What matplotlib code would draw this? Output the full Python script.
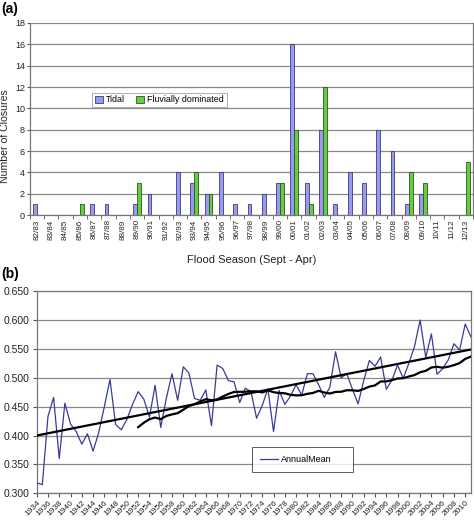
import numpy as np
import pandas as pd
import matplotlib
matplotlib.use("Agg")
import matplotlib.pyplot as plt
from matplotlib.patches import Patch
from matplotlib.lines import Line2D

plt.rcParams["font.family"] = ["Liberation Sans", "DejaVu Sans"]

# ---- panel (a): closures per flood season ----
seasons = ["82/83", "83/84", "84/85", "85/86", "86/87", "87/88", "88/89", "89/90",
           "90/91", "91/92", "92/93", "93/94", "94/95", "95/96", "96/97", "97/98",
           "98/99", "99/00", "00/01", "01/02", "02/03", "03/04", "04/05", "05/06",
           "06/07", "07/08", "08/09", "09/10", "10/11", "11/12", "12/13"]
tidal = [1, 0, 0, 0, 1, 1, 0, 1, 2, 0, 4, 3, 2, 4, 1, 1,
         2, 3, 16, 3, 8, 1, 4, 3, 8, 6, 1, 2, 0, 0, 0]
fluvial = [0, 0, 0, 1, 0, 0, 0, 3, 0, 0, 0, 4, 2, 0, 0, 0,
           0, 3, 8, 1, 12, 0, 0, 0, 0, 0, 4, 3, 0, 0, 5]

# ---- panel (b): annual mean series 1934-2011 ----
years = list(range(1934, 2012))
annual_mean = [0.318, 0.315, 0.433, 0.466, 0.360, 0.456, 0.420, 0.407, 0.385, 0.403,
               0.373, 0.405, 0.450, 0.497, 0.419, 0.410, 0.428, 0.454, 0.476, 0.463,
               0.432, 0.487, 0.414, 0.465, 0.507, 0.461, 0.519, 0.508, 0.464, 0.461,
               0.479, 0.417, 0.522, 0.516, 0.495, 0.493, 0.457, 0.482, 0.476, 0.430,
               0.452, 0.481, 0.407, 0.478, 0.454, 0.468, 0.488, 0.470, 0.507, 0.507,
               0.488, 0.466, 0.484, 0.545, 0.500, 0.507, 0.480, 0.455, 0.495, 0.530,
               0.520, 0.536, 0.480, 0.496, 0.522, 0.499, 0.525, 0.554, 0.600, 0.535,
               0.576, 0.506, 0.516, 0.531, 0.559, 0.548, 0.593, 0.571]
trend_ends = [0.400, 0.549]  # linear trend read at 1934 and 2011
ma_window = 19

GRID = "#8a8a8a"

fig = plt.figure(figsize=(4.74, 5.21), dpi=100)

# ---------------- (a) ----------------
ax1 = fig.add_axes([0.063, 0.587, 0.935, 0.369])
x = np.arange(len(seasons))
w = 0.27
ax1.bar(x - w / 2, tidal, width=w, color="#9999ee", edgecolor="#3a3a80", linewidth=0.6, zorder=3)
ax1.bar(x + w / 2, fluvial, width=w, color="#66cc44", edgecolor="#2a5a1a", linewidth=0.6, zorder=3)
ax1.set_xlim(-0.5, len(seasons) - 0.5)
ax1.set_ylim(0, 18)
ax1.set_yticks(range(0, 19, 2))
ax1.yaxis.grid(True, color=GRID, linewidth=0.9, zorder=0)
ax1.set_xticks(x)
ax1.set_xticklabels(seasons, rotation=90, fontsize=5.8, color="#222222")
ax1.set_xticks(np.arange(-0.5, len(seasons), 1), minor=True)
ax1.tick_params(axis="x", which="major", length=0, pad=3)
ax1.tick_params(axis="x", which="minor", length=3, color="#555555")
ax1.tick_params(axis="y", labelsize=6.5, length=2.5, color="#555555", labelcolor="#222222", pad=1)
for s in ax1.spines.values():
    s.set_color("#777777")
    s.set_linewidth(0.9)
ax1.spines["top"].set_visible(False)
ax1.set_ylabel("Number of Closures", fontsize=7.6, color="#222222")
ax1.yaxis.set_label_coords(-0.045, 0.41)
ax1.set_xlabel("Flood Season (Sept - Apr)", fontsize=8, color="#222222", labelpad=11)
handles = [Patch(facecolor="#9999ee", edgecolor="#3a3a80", linewidth=0.6, label="Tidal"),
           Patch(facecolor="#66cc44", edgecolor="#2a5a1a", linewidth=0.6, label="Fluvially dominated")]
leg1 = ax1.legend(handles=handles, ncol=2, loc="center left", bbox_to_anchor=(0.13, 0.6),
                  fontsize=6.4, frameon=True, fancybox=False, handlelength=0.9, handleheight=0.9,
                  handletextpad=0.4, columnspacing=1.2, borderpad=0.3)
leg1.get_frame().set_edgecolor("#999999")
leg1.get_frame().set_linewidth(0.7)
fig.text(0.003, 0.997, "(a)", fontsize=10, fontweight="bold", va="top", ha="left")

# ---------------- (b) ----------------
ax2 = fig.add_axes([0.0774, 0.0532, 0.916, 0.388])
series = pd.Series(annual_mean, index=years)
moving = series.rolling(ma_window).mean()
ax2.plot(years, annual_mean, color="#3a3a96", linewidth=0.9, zorder=3, label="AnnualMean")
ax2.plot([years[0], years[-1]], trend_ends, color="black", linewidth=1.6, zorder=4)
ax2.plot(moving.index, moving.values, color="black", linewidth=1.6, zorder=4)
ax2.set_xlim(years[0], years[-1])
ax2.set_ylim(0.3, 0.65)
ax2.set_yticks(np.arange(0.30, 0.651, 0.05))
ax2.set_yticklabels([f"{v:.3f}" for v in np.arange(0.30, 0.651, 0.05)])
ax2.set_xticks(years[::2])
ax2.set_xticklabels([str(y) for y in years[::2]], rotation=45, ha="right",
                    rotation_mode="anchor", fontsize=6, color="#222222")
ax2.set_xticks(years[::4], minor=True)
ax2.xaxis.grid(True, which="minor", color=GRID, linewidth=0.9, zorder=0)
ax2.yaxis.grid(True, color=GRID, linewidth=0.9, zorder=0)
ax2.tick_params(axis="x", which="major", length=3, color="#555555", pad=1)
ax2.tick_params(axis="x", which="minor", length=0)
ax2.tick_params(axis="y", labelsize=7.5, length=3, color="#555555", labelcolor="#222222", pad=2)
for s in ax2.spines.values():
    s.set_color("#777777")
    s.set_linewidth(0.9)
leg2 = ax2.legend(handles=[Line2D([0], [0], color="#3a3a96", linewidth=0.9)],
                  labels=["AnnualMean"], loc="lower left", bbox_to_anchor=(0.485, 0.084, 0.255, 0.144),
                  mode="expand", fontsize=6.5, frameon=True, fancybox=False,
                  handlelength=2.0, handletextpad=0.3, borderpad=0.9)
leg2.get_frame().set_edgecolor("#333333")
leg2.get_frame().set_linewidth(0.7)
fig.text(0.003, 0.487, "(b)", fontsize=10, fontweight="bold", va="top", ha="left")

fig.savefig("out.png", dpi=100)
